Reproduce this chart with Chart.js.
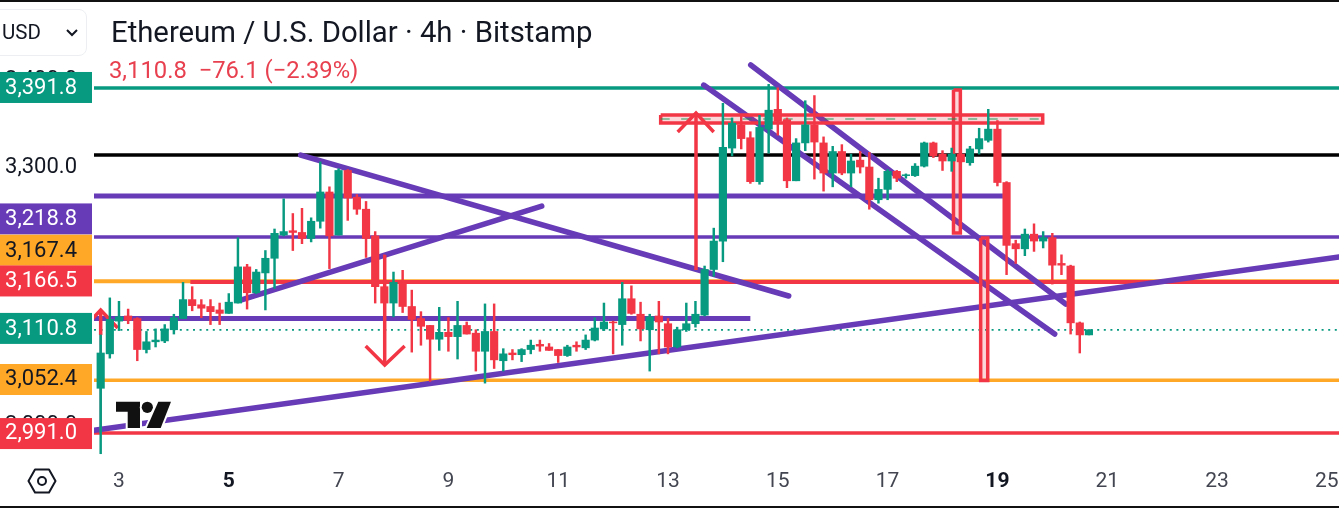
<!DOCTYPE html>
<html>
<head>
<meta charset="utf-8">
<title>Ethereum / U.S. Dollar</title>
<script src="https://cdn.jsdelivr.net/npm/chart.js@4/dist/chart.umd.js"></script>
<style>
html, body { margin: 0; padding: 0; background: #fff; width: 1339px; height: 508px; overflow: hidden; font-family: Roboto, sans-serif; }
#wrap { position: relative; width: 1339px; height: 508px; }
#myChart { position: absolute; left: 0; top: 0; }
#topBar { position: absolute; left: 0; top: 0; width: 1339px; height: 1.5px; background: #111; }
#bottomBar { position: absolute; left: 0; top: 506px; width: 1339px; height: 2px; background: #111; }
#title { position: absolute; left: 111px; top: 15px; font-size: 29.3px; line-height: 34px; color: #131722; white-space: nowrap; }
#change { position: absolute; left: 109px; top: 56px; font-size: 23.8px; line-height: 28px; color: #e8404f; white-space: pre; }
#unit { position: absolute; left: -8px; top: 9px; width: 93px; height: 45px; border: 1px solid #eceef1; border-radius: 8px; background: #fff; }
#unitText { position: absolute; left: 2px; top: 19px; font-size: 20.5px; line-height: 26px; color: #131722; }
svg { position: absolute; left: 0; top: 0; pointer-events: none; }
</style>
</head>
<body>
<div id="wrap">
  <canvas id="myChart" width="1339" height="508"></canvas>
  <div id="topBar"></div>
  <div id="bottomBar"></div>
  <div id="title">Ethereum / U.S. Dollar · 4h · Bitstamp</div>
  <div id="change">3,110.8  −76.1 (−2.39%)</div>
  <div id="unit"></div>
  <div id="unitText">USD</div>
  <svg width="1339" height="508">
    <path d="M67 30l5 5 5-5" fill="none" stroke="#131722" stroke-width="2"/>
    <g fill="#111" stroke="#fff" stroke-width="4" paint-order="stroke">
      <path d="M116 401.7H140V428H127.7V411.7H116Z"/>
      <circle cx="147.3" cy="407.3" r="5.6"/>
      <path d="M158.3 401.7H171L160.7 428H146.7Z"/>
    </g>
    <path d="M35 469.5H49L55.5 481L49 492.5H35L28.5 481Z" fill="none" stroke="#131722" stroke-width="2" stroke-linejoin="round"/>
    <circle cx="42" cy="481" r="4" fill="none" stroke="#131722" stroke-width="2"/>
  </svg>
</div>
<script>
const opens = [3043,3083,3121,3127,3124,3088,3097,3098,3111,3124,3146,3140,3138,3134,3130,3142,3184,3154,3177,3194,3221,3226,3224,3217,3237,3271,3221,3296,3265,3251,3220,3161,3142,3166,3138,3124,3116,3100,3108,3103,3116,3107,3086,3109,3075,3084,3082,3088,3094,3091,3088,3081,3093,3090,3099,3112,3120,3117,3147,3129,3111,3127,3118,3091,3111,3118,3128,3181,3214,3322,3349,3334,3283,3344,3367,3355,3284,3328,3349,3328,3293,3318,3293,3308,3300,3262,3274,3295,3290,3290,3301,3328,3315,3307,3315,3305,3321,3331,3344,3282,3211,3205,3222,3214,3218,3188,3185,3119,3105];
const highs = [3105,3148,3144,3135,3125,3109,3112,3117,3129,3166,3161,3146,3146,3142,3153,3218,3187,3181,3203,3228,3263,3246,3252,3241,3306,3277,3298,3297,3268,3260,3225,3198,3178,3180,3157,3132,3116,3137,3125,3144,3120,3111,3141,3141,3089,3088,3089,3099,3099,3095,3088,3093,3097,3105,3125,3142,3121,3166,3162,3143,3129,3144,3124,3114,3142,3144,3185,3229,3374,3357,3360,3341,3360,3396,3392,3357,3333,3377,3383,3335,3324,3326,3315,3318,3317,3287,3297,3296,3292,3304,3329,3329,3319,3322,3320,3324,3345,3367,3354,3283,3215,3228,3234,3225,3223,3198,3186,3120,3111];
const lows = [2967,3078,3110,3118,3075,3084,3091,3096,3106,3124,3133,3125,3117,3117,3130,3142,3135,3153,3134,3159,3220,3203,3211,3213,3229,3182,3221,3238,3245,3195,3142,3134,3126,3131,3085,3093,3051,3087,3086,3077,3106,3063,3049,3066,3063,3076,3074,3083,3086,3087,3073,3080,3086,3088,3098,3110,3083,3093,3129,3098,3063,3083,3083,3090,3109,3114,3127,3173,3190,3313,3321,3281,3280,3316,3337,3276,3284,3319,3286,3272,3277,3291,3277,3293,3251,3258,3262,3283,3287,3289,3300,3311,3296,3295,3305,3302,3315,3329,3278,3175,3188,3197,3202,3206,3164,3175,3106,3084,3105];
const closes = [3084,3123,3126,3122,3088,3097,3099,3112,3125,3146,3139,3136,3132,3130,3143,3184,3154,3178,3194,3223,3225,3224,3217,3237,3271,3220,3296,3264,3251,3217,3161,3142,3166,3138,3123,3115,3100,3108,3103,3116,3106,3086,3109,3076,3083,3082,3088,3093,3092,3087,3081,3091,3091,3099,3113,3120,3119,3147,3130,3112,3126,3120,3091,3111,3118,3129,3181,3214,3323,3351,3333,3283,3346,3366,3353,3284,3328,3349,3329,3293,3318,3293,3307,3300,3262,3274,3295,3287,3291,3301,3328,3313,3307,3315,3306,3321,3333,3344,3282,3209,3205,3222,3214,3218,3186,3186,3119,3105,3111];

const dayTicks = [2,14,26,38,50,62,74,86,98,110,122,134];
const dayLabels = ['3','5','7','9','11','13','15','17','19','21','23','25'];
const boldDays = ['5','19'];
const priceTicks = [3400,3300,3000];

// price scale tags on the left
const tagValues = [3391.8,3218.8,3167.4,3166.5,3110.8,3052.4,2991.0];
const tagShift = [-0.5,-18,-31,-1,-1.5,-0.7,0.5];
const tagTextShift = [1.5,1,1,1,1.5,0.5,-0.5];
const tagColors = ['#089981','#673ab7','#ffa726','#f23645','#089981','#ffa726','#f23645'];
const tagText = ['#fff','#fff','#131722','#fff','#fff','#131722','#fff'];

const xMin = -0.73, xMax = 135.33;

// drawn levels, later ones go on top: [price, from, to, colour, width]
const levels = [
    [3391.8, xMin, xMax, '#089981', 3.5],
    [3314, xMin, xMax, '#000000', 3.5],
    [3266.3, xMin, 98.6, '#673ab7', 5],
    [3218.8, xMin, xMax, '#673ab7', 3.5],
    [3167.4, xMin, xMax, '#ffa726', 4],
    [3166.5, 9.8, xMax, '#f23645', 4],
    [3124, xMin, 71, '#673ab7', 5],
    [3052.4, xMin, xMax, '#ffa726', 3.5],
    [2991, xMin, xMax, '#f23645', 3.5]
];
// trend lines: [x1, price1, x2, price2]
const trends = [
    [21.86,3313.9,75.19,3150.2],
    [15.3,3145.5,48.2,3254.7],
    [xMin,2994.1,xMax,3195.5],
    [65.9,3395.2,104.26,3106],
    [71.04,3418.5,105.46,3140.9]
];
// boxes: [x1, x2, top price, bottom price]
const boxes = [
    [61.2,102.95,3360.4,3351.1],
    [93.2,93.95,3389.4,3223.3],
    [96.17,96.94,3217.5,3052]
];
// arrows: [x, tip price, tail price, left wing x, right wing x, wing price]
const arrows = [
    [65.06,3362.7,3180.4,63.06,67,3340.7],
    [0,3133.9,3104.9,-1.86,1.86,3113],
    [31.04,3070,3197.8,28.96,33.22,3092]
];

function lineSet(points, color, width, extra) {
    return Object.assign({
        type: 'scatter',
        showLine: true,
        data: points.map(p => ({ x: p[0], y: p[1] })),
        borderColor: color,
        borderWidth: width,
        pointRadius: 0,
        pointHoverRadius: 0,
        fill: false,
        order: 10
    }, extra || {});
}

const datasets = [];
// bodies on top of wicks, wicks on top of drawings
datasets.push({
    type: 'bar',
    data: opens.map((o, i) => ({ x: i, y: [o, closes[i]] })),
    backgroundColor: opens.map((o, i) => closes[i] >= o ? '#089981' : '#f23645'),
    barThickness: 7.5,
    grouped: false,
    borderWidth: 0,
    order: 1
});
datasets.push({
    type: 'bar',
    data: highs.map((h, i) => ({ x: i, y: [lows[i], h] })),
    backgroundColor: opens.map((o, i) => closes[i] >= o ? '#089981' : '#f23645'),
    barThickness: 1.8,
    grouped: false,
    borderWidth: 0,
    order: 2
});
levels.forEach((l, i) => datasets.push(lineSet([[l[1], l[0]], [l[2], l[0]]], l[3], l[4], { order: 30 - i })));
datasets.push(lineSet([[xMin, 3110.8], [xMax, 3110.8]], '#089981', 1.6, { borderDash: [2, 4.6], order: 9 }));
trends.forEach(t => datasets.push(lineSet([[t[0], t[1]], [t[2], t[3]]], '#673ab7', 5.5, { borderCapStyle: 'round', order: 8 })));
boxes.forEach(b => datasets.push(lineSet(
    [[b[0], b[2]], [b[1], b[2]], [b[1], b[3]], [b[0], b[3]], [b[0], b[2]]],
    '#f23645', 3.5,
    { fill: 'shape', backgroundColor: 'rgba(242,54,69,0.2)', order: 7 }
)));
datasets.push(lineSet([[61.2, 3355.7], [103, 3355.7]], 'rgba(8,153,80,0.6)', 1.5, { borderDash: [9, 11.5], order: 6 }));
datasets.push(lineSet([[0, 3105], [0, 2991]], '#787b86', 2.5, { order: 5 }));
arrows.forEach(a => {
    datasets.push(lineSet([[a[0], a[1]], [a[0], a[2]]], '#f23645', 3.5, { order: 5 }));
    datasets.push(lineSet([[a[3], a[5]], [a[0], a[1]], [a[4], a[5]]], '#f23645', 3.5, { order: 5 }));
});

// coloured price tags, they sit over the axis labels
const priceTags = {
    id: 'priceTags',
    afterDraw(chart) {
        const ctx = chart.ctx, y = chart.scales.y;
        ctx.save();
        ctx.font = '22px Roboto';
        ctx.textAlign = 'right';
        ctx.textBaseline = 'middle';
        tagValues.forEach((v, i) => {
            const c = y.getPixelForValue(v) + tagShift[i];
            ctx.fillStyle = tagColors[i];
            ctx.fillRect(0, c - 15.5, 92, 31);
            ctx.fillStyle = tagText[i];
            ctx.fillText(v.toLocaleString('en-US', { minimumFractionDigits: 1 }), 77, c + tagTextShift[i]);
        });
        ctx.restore();
    }
};

new Chart(document.getElementById('myChart'), {
    data: { datasets: datasets },
    plugins: [priceTags],
    options: {
        responsive: false,
        animation: false,
        devicePixelRatio: 1,
        layout: { padding: { top: 60 }, autoPadding: false },
        plugins: { legend: { display: false }, tooltip: { enabled: false } },
        scales: {
            x: {
                type: 'linear',
                bounds: 'data',
                offset: false,
                min: xMin,
                max: xMax,
                grid: { display: false, drawTicks: false },
                border: { display: false },
                // own tick list, and keep the range exact after it
                afterBuildTicks: s => { s.ticks = dayTicks.map(v => ({ value: v })); s.min = xMin; s.max = xMax; },
                afterFit: s => { s.height = 43; s.paddingLeft = 0; s.paddingRight = 0; },
                ticks: {
                    autoSkip: false,
                    maxRotation: 0,
                    padding: 4,
                    color: c => boldDays.includes(dayLabels[c.index]) ? '#131722' : '#434651',
                    font: c => ({ family: 'Roboto', size: 21, weight: boldDays.includes(dayLabels[c.index]) ? 'bold' : 'normal' }),
                    callback: (v, i) => dayLabels[i]
                }
            },
            y: {
                min: 2953.9,
                max: 3424.3,
                grid: { display: false, drawTicks: false },
                border: { display: false },
                afterBuildTicks: s => { s.ticks = priceTicks.map(v => ({ value: v })); },
                afterFit: s => { s.width = 94; },
                ticks: {
                    autoSkip: false,
                    padding: 17,
                    color: '#131722',
                    font: { family: 'Roboto', size: 22 },
                    callback: v => v.toLocaleString('en-US', { minimumFractionDigits: 1 })
                }
            }
        }
    }
});
</script>
</body>
</html>
